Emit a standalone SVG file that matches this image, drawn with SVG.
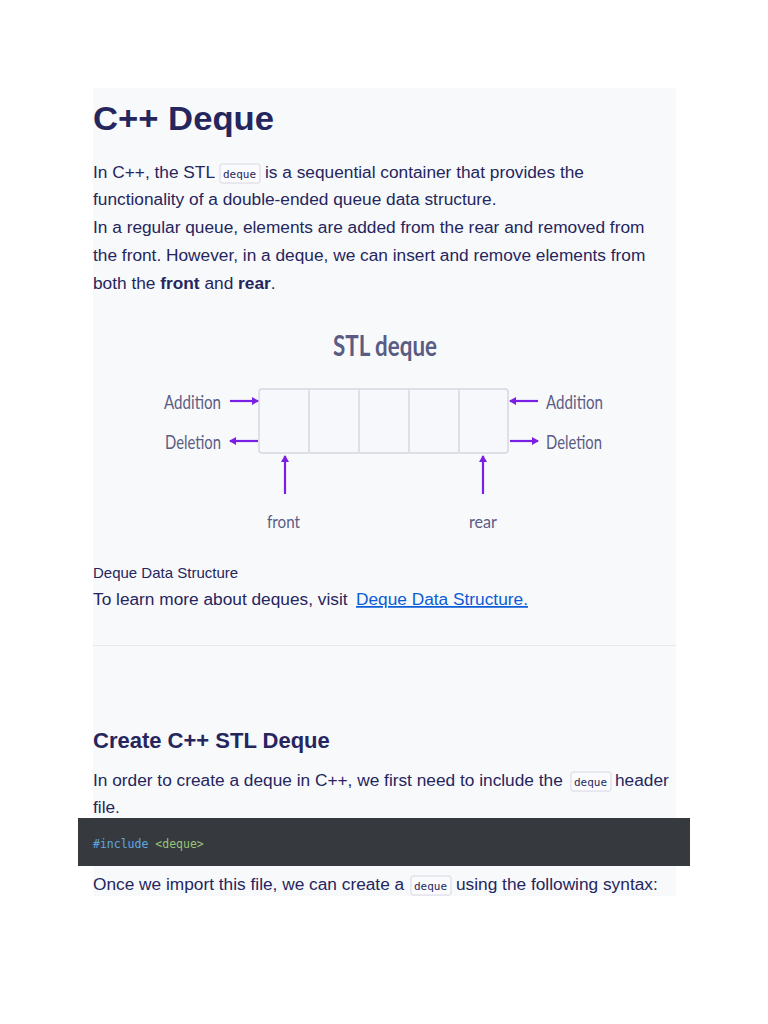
<svg xmlns="http://www.w3.org/2000/svg" width="768" height="1024" viewBox="0 0 768 1024">
<defs>
<marker id="ah" markerWidth="8" markerHeight="8" refX="6" refY="4" orient="auto" markerUnits="userSpaceOnUse"><path d="M0,0 L7,4 L0,8 Z" fill="#7b1fe6"/></marker>
</defs>
<style>
.t{font-family:"Liberation Sans",Arial,sans-serif;fill:#25265e;font-size:17.3px}
.b{font-weight:bold}
.c{font-family:"DejaVu Sans Mono",monospace;font-size:11px;fill:#25265e}
.ic{fill:#fbfbfd;stroke:#d6d8e0;stroke-width:1}
.lab{font-family:"Lato","Noto Sans",sans-serif;font-size:19px;fill:#5b5c84}
.arr{stroke:#7b1fe6;stroke-width:2.2;fill:none;marker-end:url(#ah)}
.cell{fill:#f7f8fc;stroke:#d5d8e0;stroke-width:1.5}
</style>
<rect width="768" height="1024" fill="#fff"/>
<rect x="93" y="88" width="583" height="808" fill="#f8f9fb"/>
<text class="t b" x="93" y="130" style="font-size:34px" textLength="181" lengthAdjust="spacingAndGlyphs">C++ Deque</text>
<text class="t" x="93" y="178">In C++, the STL</text>
<rect class="ic" x="220" y="164" width="40" height="19" rx="2"/>
<text class="c" x="223" y="178">deque</text>
<text class="t" x="265" y="178">is a sequential container that provides the</text>
<text class="t" x="93" y="205">functionality of a double-ended queue data structure.</text>
<text class="t" x="93" y="233">In a regular queue, elements are added from the rear and removed from</text>
<text class="t" x="93" y="261">the front. However, in a deque, we can insert and remove elements from</text>
<text class="t" x="93" y="289">both the <tspan class="b">front</tspan> and <tspan class="b">rear</tspan>.</text>
<g id="diagram">
<text x="333" y="356" textLength="104" lengthAdjust="spacingAndGlyphs" style="font-family:Lato,'Noto Sans',sans-serif;font-weight:bold;font-size:28px;fill:#5b5c84">STL deque</text>
<g id="deque-box">
<rect class="cell" x="259" y="389" width="249" height="64" rx="3"/>
<path d="M309,390V452M359,390V452M409,390V452M459,390V452" stroke="#d5d8e0" stroke-width="1.5"/>
</g>
<g id="labels">
<text class="lab" x="164" y="409" textLength="57" lengthAdjust="spacingAndGlyphs">Addition</text>
<text class="lab" x="165" y="449" textLength="56" lengthAdjust="spacingAndGlyphs">Deletion</text>
<text class="lab" x="546" y="409" textLength="57" lengthAdjust="spacingAndGlyphs">Addition</text>
<text class="lab" x="546" y="449" textLength="56" lengthAdjust="spacingAndGlyphs">Deletion</text>
<text class="lab" x="267" y="528" textLength="33" lengthAdjust="spacingAndGlyphs" style="font-size:18px">front</text>
<text class="lab" x="469" y="528" textLength="28" lengthAdjust="spacingAndGlyphs" style="font-size:18px">rear</text>
</g>
<g id="connectors">
<line class="arr" x1="230" y1="401" x2="258" y2="401"/>
<line class="arr" x1="258" y1="441" x2="230" y2="441"/>
<line class="arr" x1="538" y1="401" x2="510" y2="401"/>
<line class="arr" x1="510" y1="441" x2="538" y2="441"/>
<line class="arr" x1="285" y1="494" x2="285" y2="456"/>
<line class="arr" x1="483" y1="494" x2="483" y2="456"/>
</g>
</g>
<text class="t" x="93" y="578" style="font-size:15px">Deque Data Structure</text>
<text class="t" x="93" y="605">To learn more about deques, visit <tspan x="356" style="fill:#0b5cd5;text-decoration:underline">Deque Data Structure.</tspan></text>
<line x1="93" y1="645.5" x2="676" y2="645.5" stroke="#e6e8ee"/>
<text class="t b" x="93" y="748" style="font-size:22px">Create C++ STL Deque</text>
<text class="t" x="93" y="786">In order to create a deque in C++, we first need to include the</text>
<rect class="ic" x="571" y="772" width="40" height="19" rx="2"/>
<text class="c" x="574" y="786">deque</text>
<text class="t" x="615" y="786">header</text>
<text class="t" x="93" y="813">file.</text>
<rect x="78" y="818" width="612" height="48" fill="#363a3f"/>
<text x="93" y="848" style="font-family:'DejaVu Sans Mono',monospace;font-size:11.5px"><tspan fill="#5ea8e0">#include</tspan> <tspan fill="#98c379">&lt;deque&gt;</tspan></text>
<text class="t" x="93" y="890">Once we import this file, we can create a</text>
<rect class="ic" x="411" y="876" width="40" height="19" rx="2"/>
<text class="c" x="414" y="890">deque</text>
<text class="t" x="456" y="890">using the following syntax:</text>
</svg>
